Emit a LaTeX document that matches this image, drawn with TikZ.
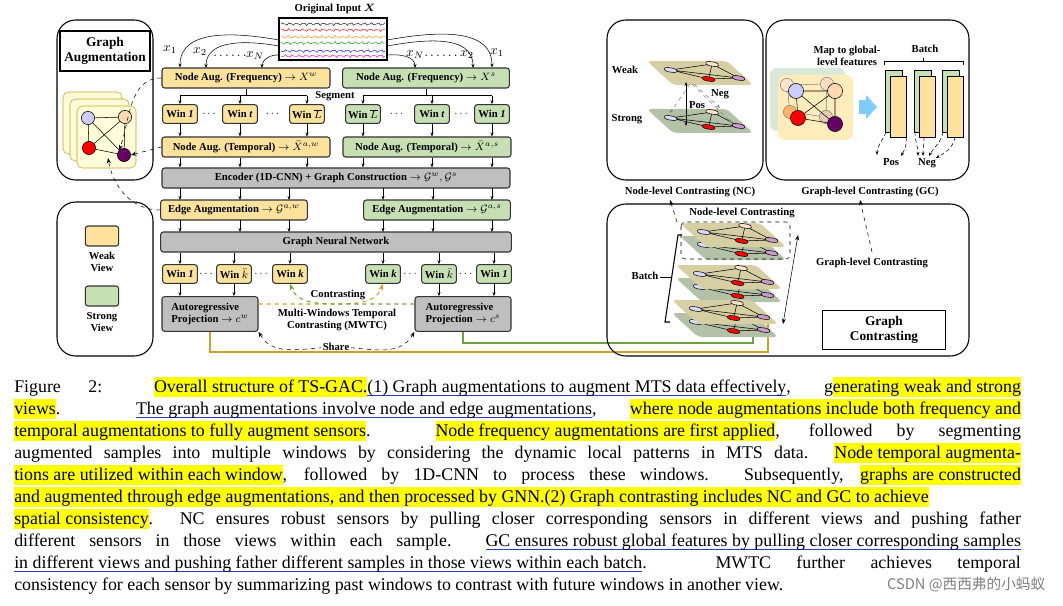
\documentclass[tikz,border=0pt]{standalone}
\usepackage{fontspec}
\setmainfont{Liberation Serif}
\newfontfamily\cjk{Noto Sans CJK SC}
\usepackage{amsmath,amssymb}
\usetikzlibrary{arrows.meta,positioning,calc}
\definecolor{weakc}{HTML}{FCE29C}
\definecolor{strongc}{HTML}{C6E0B4}
\definecolor{grayc}{HTML}{BFBFBF}
\definecolor{goldc}{HTML}{C9A227}
\definecolor{greenc}{HTML}{70A040}
\definecolor{tanc}{HTML}{D6CFA4}
\definecolor{sagec}{HTML}{B3C2A6}
\definecolor{hlc}{HTML}{FFFF00}
\definecolor{ulc}{HTML}{2A3FC0}
% highlight and underline for the caption
\newcommand{\hlb}[1]{\setbox0\hbox{#1}\rlap{\color{hlc}\rule[-4pt]{\wd0}{15.5pt}}\box0}
\newcommand{\ulb}[1]{\setbox0\hbox{#1}\rlap{\color{ulc}\rule[-2.6pt]{\wd0}{0.7pt}}\box0}
% one skewed graph layer
\newcommand{\glayer}[3]{%
  \begin{scope}[shift={(#1,#2)}, xslant=-1.1]
    \fill[#3, rounded corners=3] (-40,-12) rectangle (40,12);
    \draw (-26,-3) -- (22,-9) -- (33,5) -- (2,6) -- (-26,-3) (22,-9) -- (2,6) (-26,-3) -- (33,5);
    \draw[fill=blue!15] (-26,-3) ellipse (6 and 2.5);
    \draw[fill=orange!20] (22,-9) ellipse (6 and 2.5);
    \draw[fill=violet!40] (33,5) ellipse (6 and 2.5);
    \draw[fill=red] (2,6) ellipse (6 and 2.5);
  \end{scope}}
\begin{document}
\begin{tikzpicture}[x=0.75pt,y=-0.75pt,font=\bfseries\fontsize{8}{9}\selectfont,
  box/.style={draw=black!80, thick, rounded corners=2, inner sep=1pt},
  weak/.style={box, fill=weakc},
  strong/.style={box, fill=strongc},
  gbox/.style={box, fill=grayc},
  panel/.style={draw, thick, rounded corners=14},
  arr/.style={-{Stealth[length=3pt]}},
  darr/.style={dashed, -{Stealth[length=4pt]}},
  capline/.style={anchor=base west, inner sep=0pt, font=\fontsize{13.4}{16.5}\selectfont}]
\useasboundingbox (0,0) rectangle (1063,606);

% left panels
\draw[panel] (57,20) rectangle (153,180);
\node[draw, very thick, minimum width=65pt, minimum height=30pt, align=center, font=\bfseries\fontsize{10}{11}\selectfont] (gatitle) at (105,51) {Graph\\Augmentation};
\foreach \d in {0,7,14}
  \draw[goldc, fill=yellow!15, rounded corners=4] (63+\d,92+\d) rectangle (122+\d,154+\d);
\node[circle, draw, fill=blue!20, inner sep=3.5pt] (ga1) at (88,118) {};
\node[circle, draw, fill=orange!30, inner sep=3.5pt] (ga2) at (125,117) {};
\node[circle, draw, fill=red, inner sep=3.5pt] (ga3) at (89,148) {};
\node[circle, draw, fill=violet!80!black, inner sep=3.5pt] (ga4) at (124,155) {};
\draw (ga1) -- (ga2) (ga1) -- (ga3) (ga1) -- (ga4) (ga2) -- (ga3) (ga2) -- (ga4) (ga3) -- (ga4);

\draw[panel] (57,202) rectangle (153,356);
\node[weak, minimum width=25pt, minimum height=15pt] (lweak) at (102,236) {};
\node[below=1pt of lweak, align=center] (lweakt) {Weak\\View};
\node[strong, minimum width=25pt, minimum height=15pt] (lstrong) at (102,296) {};
\node[below=1pt of lstrong, align=center] (lstrongt) {Strong\\View};

% input
\node (inlabel) at (335,9) {Original Input $\boldsymbol{X}$};
\draw[thick] (279,18) rectangle (387,60);
\foreach \c/\y in {black/24,red/30,orange/37,green!60!black/43,blue/51,magenta/56}
  \draw[\c, line width=0.3pt] plot[domain=0:104, samples=70] ({281+\x}, {\y+0.9*sin(\x*53+\y*7)+0.7*sin(\x*131)});
\coordinate (inL) at (279,40);
\coordinate (inR) at (387,40);

% weak branch
\node[weak, minimum width=126pt, minimum height=15pt] (nfw) at (246,78) {Node Aug. (Frequency) $\rightarrow X^{w}$};
\node[strong, minimum width=125pt, minimum height=15pt] (nfs) at (426,78) {Node Aug. (Frequency) $\rightarrow X^{s}$};
\node (seg) at (335,96) {Segment};
\node[weak, minimum width=26pt, minimum height=14pt] (ww1) at (180,114) {Win \textit{1}};
\node[weak, minimum width=26pt, minimum height=14pt] (wwt) at (240,114) {Win \textit{t}};
\node[weak, minimum width=26pt, minimum height=14pt] (wwl) at (307,114) {Win $\overline{L}$};
\node[strong, minimum width=26pt, minimum height=14pt] (swl) at (363,114) {Win $\overline{L}$};
\node[strong, minimum width=26pt, minimum height=14pt] (swt) at (432,114) {Win \textit{t}};
\node[strong, minimum width=26pt, minimum height=14pt] (sw1) at (492,114) {Win \textit{1}};
\foreach \a/\b in {ww1/wwt,wwt/wwl,swl/swt,swt/sw1}
  \node at ($(\a)!0.5!(\b)$) {$\cdots$};
\node[weak, minimum width=126pt, minimum height=15pt] (ntw) at (246,147) {Node Aug. (Temporal) $\rightarrow \bar{X}^{a,w}$};
\node[strong, minimum width=126pt, minimum height=15pt] (nts) at (427,147) {Node Aug. (Temporal) $\rightarrow \bar{X}^{a,s}$};
\node[gbox, minimum width=261pt, minimum height=15pt] (enc) at (336,178) {Encoder (1D-CNN) + Graph Construction $\rightarrow \mathcal{G}^{w}, \mathcal{G}^{s}$};
\node[weak, minimum width=110pt, minimum height=15pt] (eaw) at (234,210) {Edge Augmentation $\rightarrow \mathcal{G}^{a,w}$};
\node[strong, minimum width=110pt, minimum height=15pt] (eas) at (437,210) {Edge Augmentation $\rightarrow \mathcal{G}^{a,s}$};
\node[gbox, minimum width=263pt, minimum height=15pt] (gnn) at (336,242) {Graph Neural Network};
\node[weak, minimum width=26pt, minimum height=14pt] (kw1) at (180,274) {Win \textit{1}};
\node[weak, minimum width=26pt, minimum height=14pt] (kwb) at (234,274) {Win $\bar{k}$};
\node[weak, minimum width=26pt, minimum height=14pt] (kwk) at (290,274) {Win \textit{k}};
\node[strong, minimum width=26pt, minimum height=14pt] (ksk) at (383,274) {Win \textit{k}};
\node[strong, minimum width=26pt, minimum height=14pt] (ksb) at (439,274) {Win $\bar{k}$};
\node[strong, minimum width=26pt, minimum height=14pt] (ks1) at (494,274) {Win \textit{1}};
\foreach \a/\b in {kw1/kwb,kwb/kwk,ksk/ksb,ksb/ks1}
  \node at ($(\a)!0.5!(\b)$) {$\cdots$};
\node[gbox, minimum width=72pt, minimum height=26pt, align=left] (arw) at (210,314) {Autoregressive\\Projection $\rightarrow c^{w}$};
\node[gbox, minimum width=72pt, minimum height=26pt, align=left] (ars) at (463,314) {Autoregressive\\Projection $\rightarrow c^{s}$};
\node[align=center] (mwtc) at (337,320) {Multi-Windows Temporal\\Contrasting (MWTC)};

% input arrows
\draw[arr] (inL) to[out=170, in=90] (ww1.north |- nfw.north);
\draw[arr] (279,46) to[out=170, in=90] (206,68);
\draw[arr] (279,55) to[out=175, in=90] (262,68);
\draw[arr] (inR) to[out=10, in=90] (sw1.north |- nfs.north);
\draw[arr] (387,46) to[out=10, in=90] (473,68);
\draw[arr] (387,55) to[out=5, in=90] (415,68);
\node at (170,50) {\fontsize{10}{10}\selectfont$x_1$};
\node at (200,52) {\fontsize{10}{10}\selectfont$x_2$};
\node at (230,56) {\fontsize{10}{10}\selectfont$\ldots\ldots$};
\node at (255,56) {\fontsize{10}{10}\selectfont$x_N$};
\node at (415,55) {\fontsize{10}{10}\selectfont$x_N$};
\node at (441,56) {\fontsize{10}{10}\selectfont$\ldots\ldots$};
\node at (467,55) {\fontsize{10}{10}\selectfont$x_2$};
\node at (497,53) {\fontsize{10}{10}\selectfont$x_1$};

% segmenting
\draw (nfw.south) -- ++(0,7) coordinate (segw);
\draw (ww1.north |- segw) -- (wwl.north |- segw);
\draw (nfs.south) -- ++(0,7) coordinate (segs);
\draw (swl.north |- segs) -- (sw1.north |- segs);
\foreach \n in {ww1,wwt,wwl}
  \draw[arr] (\n.north |- segw) -- (\n.north);
\foreach \n in {swl,swt,sw1}
  \draw[arr] (\n.north |- segs) -- (\n.north);
\foreach \n in {ww1,wwt,wwl} {
  \draw[arr] (\n.south) -- (\n.south |- ntw.north);
  \draw[arr] (\n.south |- ntw.south) -- (\n.south |- enc.north);}
\foreach \n in {swl,swt,sw1} {
  \draw[arr] (\n.south) -- (\n.south |- nts.north);
  \draw[arr] (\n.south |- nts.south) -- (\n.south |- enc.north);}
\foreach \x in {180,240,289} {
  \draw[arr] (\x,188) -- (\x,200);
  \draw[arr] (\x,220) -- (\x,232);}
\foreach \x in {383,433,492} {
  \draw[arr] (\x,188) -- (\x,200);
  \draw[arr] (\x,220) -- (\x,232);}
\foreach \n in {kw1,kwb,kwk,ksk,ksb,ks1}
  \draw[arr] (\n.north |- gnn.south) -- (\n.north);
\foreach \n in {kw1,kwb}
  \draw[arr] (\n.south) -- (\n.south |- arw.north);
\foreach \n in {ksb,ks1}
  \draw[arr] (\n.south) -- (\n.south |- ars.north);

% MWTC contrasting and share
\draw[goldc, dashed, thick, -{Stealth[length=5pt]}] (arw.east) ++(0,-10) -- (330,304) to[out=0, in=-110] (ksk.south);
\draw[greenc, dashed, thick, -{Stealth[length=5pt]}] (ars.west) ++(0,-10) -- (340,304) to[out=180, in=-70] (kwk.south);
\node[fill=white, inner sep=0.5pt] (ctr) at (338,295) {Contrasting};
\draw[dashed, {Stealth[length=4pt]}-{Stealth[length=4pt]}] (arw.south east) to[out=-60, in=180] (336,347) to[out=0, in=-120] (ars.south west);
\node[fill=white, inner sep=1pt] (share) at (336,347) {Share};

% graph augmentation links
\draw[darr] (nfw.west) to[out=180, in=70] (ga4.north west);
\draw[darr] (ntw.west) -- (ga4.east);
\draw[darr] (eaw.west) to[out=180, in=-80] (108,158);

% to graph contrasting
\draw[goldc, thick, arr] (arw.south) -- (210,352) -- (768,352) -- (768,322);
\draw[greenc, thick, arr] (ars.south) -- (463,343) -- (753,343) -- (753,333);

% node-level contrasting panel
\draw[panel] (607,20) rectangle (763,180);
\glayer{700}{121}{sagec}
\glayer{700}{73}{tanc}
\draw[{Stealth[length=3pt]}-{Stealth[length=3pt]}] (686,82) -- (686,126);
\draw[gray, dashed, arr] (690,84) -- (670,113);
\draw[gray, dashed, arr] (692,84) -- (732,123);
\draw[gray, dashed, arr] (694,84) -- (720,108);
\node (weakl) at (625,70) {Weak};
\node (strongl) at (627,119) {Strong};
\node (posl) at (697,105) {Pos};
\node (negl) at (720,94) {Neg};
\node (ncl) at (690,192) {Node-level Contrasting (NC)};

% graph-level contrasting panel
\draw[panel] (766,20) rectangle (969,180);
\fill[green!40!black!15, rounded corners=5] (770,68) rectangle (845,131);
\fill[yellow!50!orange!25, rounded corners=5] (778,75) rectangle (853,140);
\node[circle, draw=gray, fill=orange!20, inner sep=3.5pt] (gc5) at (787,85) {};
\node[circle, draw=gray, fill=orange!60, inner sep=3.5pt] (gc6) at (790,112) {};
\node[circle, draw=gray, fill=orange!25, inner sep=3.5pt] (gc7) at (827,84) {};
\node[circle, draw=gray, fill=brown!40, inner sep=3.5pt] (gc8) at (826,117) {};
\draw[gray] (gc5) -- (gc7) (gc5) -- (gc6) (gc6) -- (gc8) (gc7) -- (gc8);
\node[circle, draw, fill=blue!20, inner sep=4pt] (gc1) at (796,91) {};
\node[circle, draw, fill=orange!30, inner sep=4pt] (gc2) at (835,91) {};
\node[circle, draw, fill=red, inner sep=4pt] (gc3) at (798,118) {};
\node[circle, draw, fill=violet!80!black, inner sep=4pt] (gc4) at (835,124) {};
\draw (gc1) -- (gc2) (gc1) -- (gc3) (gc1) -- (gc4) (gc2) -- (gc3) (gc2) -- (gc4) (gc3) -- (gc4);
\fill[blue!40!cyan!50] (859,100) -- (866,100) -- (866,95) -- (877,107) -- (866,119) -- (866,114) -- (859,114) -- cycle;
\foreach \x in {885,914,942} {
  \draw[fill=strongc] (\x,70) rectangle (\x+17,132);
  \draw[fill=weakc] (\x+5,76) rectangle (\x+21,137);}
\node[align=center] (mapl) at (847,56) {Map to global-\\level features};
\draw (884,65) -- (884,61) -- (963,61) -- (963,65) (923,61) -- (923,58);
\node (batchgc) at (925,49) {Batch};
\draw[densely dashed, arr] (886,132) to[out=-110, in=90] (877,155);
\draw[densely dashed, arr] (906,137) to[out=-80, in=60] (901,156);
\draw[densely dashed, arr] (915,132) to[out=-90, in=90] (918,156);
\draw[densely dashed, arr] (924,137) to[out=-90, in=90] (923,156);
\draw[densely dashed, arr] (943,132) to[out=-100, in=60] (929,156);
\draw[densely dashed, arr] (955,137) to[out=-100, in=30] (936,158);
\node (posgc) at (891,162) {Pos};
\node (neggc) at (927,163) {Neg};
\node (gcl) at (870,192) {Graph-level Contrasting (GC)};

% graph contrasting panel
\draw[panel] (607,204) rectangle (969,356);
\glayer{733}{248}{sagec}
\glayer{733}{235}{tanc}
\glayer{729}{290}{sagec}
\glayer{729}{277}{tanc}
\glayer{725}{325}{sagec}
\glayer{725}{312}{tanc}
\draw[dashed, rounded corners=3] (681,222) rectangle (790,259);
\node (ncin) at (742,213) {Node-level Contrasting};
\node (gcin) at (872,263) {Graph-level Contrasting};
\draw[thick] (682,235) -- (678,235) -- (665,322) -- (670,322);
\node (batchl) at (645,276) {Batch};
\draw (660,277) -- (671,277);
\draw[{Stealth[length=4pt]}-{Stealth[length=4pt]}] (798,235) -- (783,324);
\draw[darr] (677,222) -- (670,200);
\draw[darr] (872,252) -- (860,200);
\node[draw, thick, minimum width=92pt, minimum height=29pt, align=center, font=\bfseries\fontsize{10}{11}\selectfont] (gctitle) at (884,330) {Graph\\Contrasting};

% caption
\node[capline] (cap1) at (14,392) {\makebox[755pt][s]{Figure 2: \hlb{Overall structure of TS-GAC.} \ulb{(1) Graph augmentations to augment MTS data effectively}, g\hlb{enerating weak and strong}}};
\node[capline] (cap2) at (14,414) {\makebox[755pt][s]{\hlb{views}. \ulb{The graph augmentations involve node and edge augmentations}, \hlb{where node augmentations include both frequency and}}};
\node[capline] (cap3) at (14,436) {\makebox[755pt][s]{\hlb{temporal augmentations to fully augment sensors}. \hlb{Node frequency augmentations are first applied}, followed by segmenting}};
\node[capline] (cap4) at (14,458) {\makebox[755pt][s]{augmented samples into multiple windows by considering the dynamic local patterns in MTS data. \hlb{Node temporal augmenta-}}};
\node[capline] (cap5) at (14,480) {\makebox[755pt][s]{\hlb{tions are utilized within each window}, followed by 1D-CNN to process these windows. Subsequently, \hlb{graphs are constructed}}};
\node[capline] (cap6) at (14,502) {\makebox[755pt][s]{\hlb{and augmented through edge augmentations, and then processed by GNN.} \hlb{(2) Graph contrasting includes NC and GC to achieve}}};
\node[capline] (cap7) at (14,524) {\makebox[755pt][s]{\hlb{spatial consistency}. NC ensures robust sensors by pulling closer corresponding sensors in different views and pushing father}};
\node[capline] (cap8) at (14,546) {\makebox[755pt][s]{different sensors in those views within each sample. \ulb{GC ensures robust global features by pulling closer corresponding samples}}};
\node[capline] (cap9) at (14,568) {\makebox[755pt][s]{\ulb{in different views and pushing father different samples in those views within each batch}. MWTC further achieves temporal}};
\node[capline] (cap10) at (14,590) {consistency for each sensor by summarizing past windows to contrast with future windows in another view.};
\node[anchor=east, gray, font=\cjk\fontsize{11}{11}\selectfont] (mark) at (1050,585) {CSDN @西西弗的小蚂蚁};
\end{tikzpicture}
\end{document}
